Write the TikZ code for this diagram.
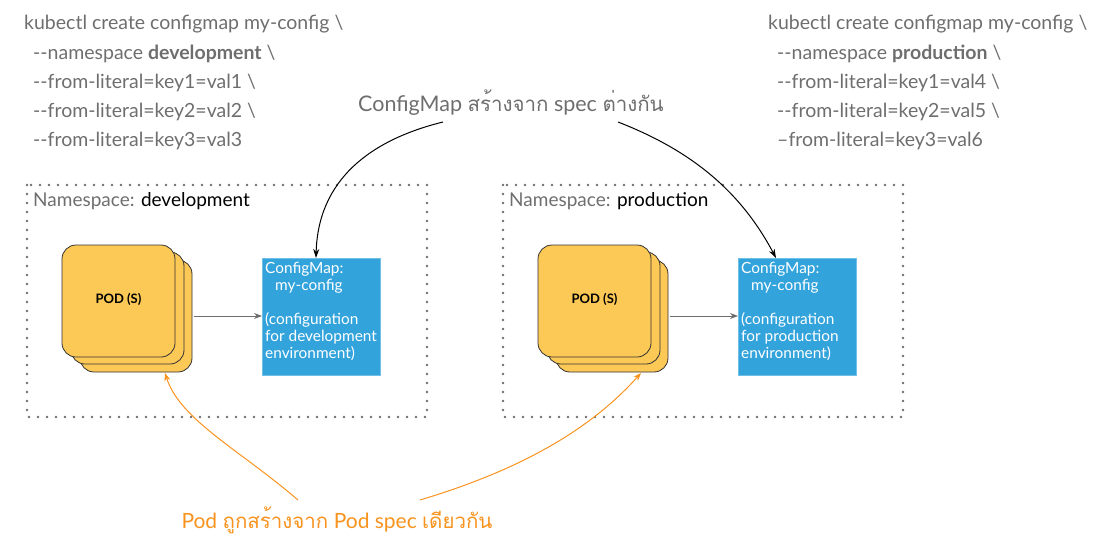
\documentclass[tikz,border=0pt]{standalone}
\usepackage{fontspec}
\setmainfont{Lato}
\newfontfamily\thai{Loma.otf}
\usetikzlibrary{arrows.meta}
\definecolor{txtgray}{RGB}{110,110,110}
\definecolor{podfill}{RGB}{252,200,86}
\definecolor{cmfill}{RGB}{51,163,220}
\definecolor{orng}{RGB}{247,147,30}
\begin{document}
\begin{tikzpicture}[x=1pt,y=-1pt,
  code/.style={anchor=west,inner sep=0,text=txtgray,font=\fontsize{19.5}{22}\selectfont},
  nsbox/.style={draw=txtgray,line width=2.6pt,dash pattern=on 0pt off 9pt,line cap=round},
  pod/.style={draw=black!80,fill=podfill,rounded corners=14pt,line width=0.8pt},
  cmbox/.style={fill=cmfill,draw=cmfill!70!white,anchor=north west,minimum width=118pt,minimum height=117pt,inner sep=0},
  cmtext/.style={anchor=north west,align=left,text=white,inner sep=0,font=\fontsize{15.4}{17}\selectfont},
  link/.style={-{Stealth[length=8pt,width=6pt]},draw=txtgray,line width=0.8pt}]
\useasboundingbox (0,0) rectangle (1104,544);
% command listings
\node[code] (l1) at (24,24) {kubectl create configmap my-config \textbackslash};
\node[code] (l2) at (33,54) {-{}-namespace \textbf{development} \textbackslash};
\node[code] (l3) at (33,83) {-{}-from-literal=key1=val1 \textbackslash};
\node[code] (l4) at (33,112) {-{}-from-literal=key2=val2 \textbackslash};
\node[code] (l5) at (33,141) {-{}-from-literal=key3=val3};
\node[code] (r1) at (768,24) {kubectl create configmap my-config \textbackslash};
\node[code] (r2) at (777,54) {-{}-namespace \textbf{production} \textbackslash};
\node[code] (r3) at (777,83) {-{}-from-literal=key1=val4 \textbackslash};
\node[code] (r4) at (777,112) {-{}-from-literal=key2=val5 \textbackslash};
\node[code] (r5) at (777,141) {–from-literal=key3=val6};
% title
\node[text=txtgray,font=\fontsize{21.5}{26}\selectfont] (title) at (511,103) {ConfigMap {\thai\fontsize{20.5}{26}\selectfont สร้างจาก} spec {\thai\fontsize{20.5}{26}\selectfont ต่างกัน}};
\coordinate (tl) at (443,122);
\coordinate (tr) at (618,122);
% namespaces
\foreach \dx/\nm/\lab/\env in {0/dev/development/development, 476/prod/production/production}{
  \begin{scope}[xshift=\dx]
  \draw[nsbox] (27,185) rectangle (427,417);
  \node[anchor=west,inner sep=0,font=\fontsize{19}{22}\selectfont] (\nm-ns) at (33,201) {\textcolor{txtgray}{Namespace:} \lab};
  \draw[pod] (80,260) rectangle (192,372);
  \draw[pod] (71,252) rectangle (184,364);
  \draw[pod] (62,245) rectangle (175,357);
  \node[font=\bfseries\fontsize{13}{15}\selectfont,inner sep=0] (\nm-pod) at (118.5,299) {POD (S)};
  \coordinate (\nm-podr) at (194,316);
  \coordinate (\nm-podb) at (165,373);
  \node[cmbox] (\nm-cm) at (262,258) {};
  \node[cmtext] (\nm-cmt) at (265,262) {ConfigMap:\\\hspace*{10pt}my-config\\[17pt](configuration\\for \env\\environment)};
  \draw[link] (\nm-podr) -- (\nm-cm.west|-\nm-podr);
  \end{scope}
}
\draw[-{Stealth[length=9pt,width=6pt]},line width=1pt] (tl) .. controls (370,140) and (318,180) .. ([xshift=54pt]dev-cm.north west);
\draw[-{Stealth[length=9pt,width=6pt]},line width=1pt] (tr) .. controls (690,150) and (740,190) .. ([xshift=38pt]prod-cm.north west);
% bottom caption
\node[text=orng,font=\fontsize{21}{25}\selectfont] (cap) at (337,520) {Pod {\thai\fontsize{20.5}{25}\selectfont ถูกสร้างจาก} Pod spec {\thai\fontsize{20.5}{25}\selectfont เดียวกัน}};
\coordinate (cl) at (298,500);
\coordinate (cr) at (420,500);
\draw[orng,line width=1pt,-{Stealth[length=8pt,width=6pt]}] (cl) .. controls (240,450) and (180,420) .. (dev-podb);
\draw[orng,line width=1pt,-{Stealth[length=8pt,width=6pt]}] (cr) .. controls (520,470) and (590,430) .. (prod-podb);
\end{tikzpicture}
\end{document}
